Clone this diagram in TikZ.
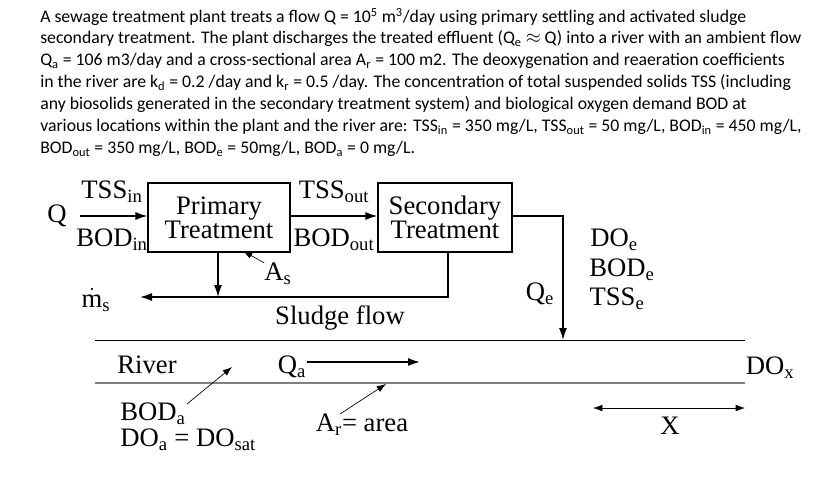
\documentclass[tikz,border=0pt]{standalone}
\usepackage{fontspec}
\usetikzlibrary{arrows.meta}
\setmainfont{Liberation Serif}
\newfontfamily\para{Carlito}
\begin{document}
\begin{tikzpicture}[x=0.75pt,y=-0.75pt,
 para/.style={anchor=west,inner sep=0,font=\para\fontsize{13.3}{15}\selectfont},
 lbl/.style={inner sep=0,font=\fontsize{20}{22}\selectfont},
 box/.style={draw,thick,inner sep=0,font=\fontsize{20}{22}\selectfont,align=center},
 ar/.style={-{Latex[length=9pt,width=6pt]},line width=1.1pt},
 tar/.style={-{Latex[length=7pt,width=5pt]},line width=0.5pt}]
\useasboundingbox (0,0) rectangle (838,476);
\node[para] (p1) at (40,17) {A sewage treatment plant treats a flow Q = 10\textsuperscript{5} m\textsuperscript{3}/day using primary settling and activated sludge};
\node[para] (p2) at (40,39) {secondary treatment.  The plant discharges the treated effluent (Q\textsubscript{e} $\approx$ Q) into a river with an ambient flow};
\node[para] (p3) at (40,61) {Q\textsubscript{a} = 106 m3/day and a cross-sectional area A\textsubscript{r} = 100 m2.  The deoxygenation and reaeration coefficients};
\node[para] (p4) at (40,83) {in the river are k\textsubscript{d} = 0.2 /day and k\textsubscript{r} = 0.5 /day.  The concentration of total suspended solids TSS (including};
\node[para] (p5) at (40,105) {any biosolids generated in the secondary treatment system) and biological oxygen demand BOD at};
\node[para] (p6) at (40,127) {various locations within the plant and the river are: TSS\textsubscript{in} = 350 mg/L, TSS\textsubscript{out} = 50 mg/L, BOD\textsubscript{in} = 450 mg/L,};
\node[para] (p7) at (40,149) {BOD\textsubscript{out} = 350 mg/L, BOD\textsubscript{e} = 50mg/L, BOD\textsubscript{a} = 0 mg/L.};

\node[box,minimum width=142*0.75pt,minimum height=69*0.75pt] (pt) at (219,217.5) {Primary\\[-4pt]Treatment};
\node[box,minimum width=134*0.75pt,minimum height=69*0.75pt] (st) at (445,217.5) {Secondary\\[-4pt]Treatment};
\node[lbl] (q) at (57,216) {Q};
\coordinate (qs) at (80,216);
\draw[ar] (qs) -- (pt.west|-qs);
\node[lbl] (tin) at (112,192) {TSS\textsubscript{in}};
\node[lbl] (bin) at (112,240) {BOD\textsubscript{in}};
\draw[ar] (pt.east|-qs) -- (st.west|-qs);
\node[lbl] (tout) at (334,192) {TSS\textsubscript{out}};
\node[lbl] (bout) at (334,240) {BOD\textsubscript{out}};
\coordinate (c1) at (563,216);
\coordinate (c2) at (563,340);
\draw[ar] (st.east|-qs) -- (c1) -- (c2);
\node[lbl] (qe) at (540,294) {Q\textsubscript{e}};
\node[lbl] (doe) at (614,240) {DO\textsubscript{e}};
\node[lbl] (bode) at (622,270) {BOD\textsubscript{e}};
\node[lbl] (tsse) at (617,299) {TSS\textsubscript{e}};
\coordinate (s1) at (448,297);
\coordinate (s2) at (218,297);
\coordinate (s3) at (140,297);
\draw[ar] (pt.south-|s2) -- (s2);
\draw[ar] (st.south-|s1) -- (s1) -- (s3);
\node[lbl] (ms) at (96,300) {$\dot{\mathrm{m}}$\textsubscript{s}};
\node[lbl] (sf) at (340,318) {Sludge flow};
\node[lbl] (as) at (278,274) {A\textsubscript{s}};
\draw[tar] (as.north west) -- (243,251);

\coordinate (r1) at (95,340); \coordinate (r2) at (745,340);
\coordinate (r3) at (95,383); \coordinate (r4) at (745,383);
\draw (r1) -- (r2);
\draw[gray,thick] (r3) -- (r4);
\node[lbl] (riv) at (147,365) {River};
\node[lbl] (qa) at (292,367) {Q\textsubscript{a}};
\coordinate (qa1) at (307,362);
\coordinate (qa2) at (420,362);
\draw[ar] (qa1) -- (qa2);
\node[lbl] (dox) at (770,368) {DO\textsubscript{x}};
\node[lbl,anchor=west] (boda) at (120,414) {BOD\textsubscript{a}};
\node[lbl,anchor=west] (doa) at (120,440) {DO\textsubscript{a} = DO\textsubscript{sat}};
\coordinate (rv) at (232,367);
\draw[tar] (187,404) -- (rv);
\node[lbl] (arl) at (362,425) {A\textsubscript{r}= area};
\coordinate (rb) at (386,384);
\draw[tar] (340,414) -- (rb);
\coordinate (x1) at (593,408); \coordinate (x2) at (745,408);
\draw[{Latex[length=7pt,width=5pt]}-{Latex[length=7pt,width=5pt]},line width=0.5pt] (x1) -- (x2);
\node[lbl] (xl) at (670,426) {X};
\end{tikzpicture}
\end{document}
